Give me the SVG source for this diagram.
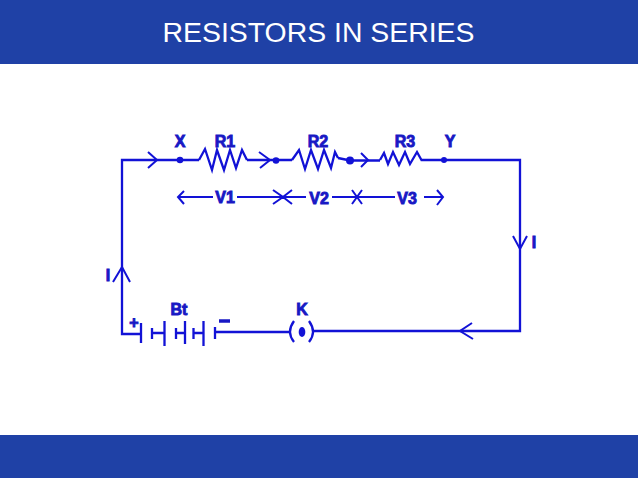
<svg xmlns="http://www.w3.org/2000/svg" width="638" height="478" viewBox="0 0 638 478">
<style>
.bar{fill:#1f41a6}
.title{font:28.4px "Liberation Sans",Arial,sans-serif;fill:#fff;text-anchor:middle}
.w{fill:none;stroke:#1212d6;stroke-width:2.300}
.t{fill:none;stroke:#1212d6;stroke-width:2}
.d{fill:#1212d6}
.lb{font:bold 16px "Liberation Sans",Arial,sans-serif;fill:#1818c4;text-anchor:middle;stroke:#1818c4;stroke-width:.9}
</style>
<rect width="638" height="478" fill="#fff"/>
<rect class="bar" width="638" height="64"/>
<rect class="bar" y="435" width="638" height="43"/>
<text class="title" x="318.500" y="42">RESISTORS IN SERIES</text>
<g id="connectors">
<path class="w" d="M180 160H122V334H141"/>
<path class="w" d="M180 160H199M247 160H276M276 160H292M338 158L350 160.500H380M422 160H520V331H314M215 332H291"/>
<path class="t" d="M148 152L157 160L148 168M259 152L270 160L260 168M361 153L368 160L361 167M513 236L520 249L527 236M472 323L460 331L473 339M113 282L122 267L130 282"/>
<path class="t" d="M213 197H178M184 191L178 197L184 204M237 197H306M273 190L283 197L273 204M292 190L283 197L292 204M332 197H395M352 190L362 204M362 190L352 204M424 197H443M437 190L443 197L437 205"/>
</g>
<g id="X"><circle class="d" cx="180" cy="160" r="3.300"/><text class="lb" x="180" y="147">X</text></g>
<g id="R1"><path class="w" d="M199 160L205 149L212 170L217 150L224 170L230 150L236 168L242 150L247 160"/><text class="lb" x="225" y="147">R1</text></g>
<g id="J1"><circle class="d" cx="276" cy="160.500" r="3.300"/></g>
<g id="R2"><path class="w" d="M292 160L299 150L305 169L311 150L318 169L324 150L331 168L335 152L338 158"/><text class="lb" x="318" y="147">R2</text></g>
<g id="J2"><circle class="d" cx="350" cy="160.500" r="4"/></g>
<g id="R3"><path class="w" d="M380 160L384 153L388 164L393 152L399 165L405 152L410 164L417 152L422 161"/><text class="lb" x="405" y="147">R3</text></g>
<g id="Y"><circle class="d" cx="444" cy="160" r="3"/><text class="lb" x="450" y="147">Y</text></g>
<g id="V1"><text class="lb" x="225" y="203">V1</text></g>
<g id="V2"><text class="lb" x="319" y="203.500">V2</text></g>
<g id="V3"><text class="lb" x="407" y="203.500">V3</text></g>
<g id="I-right"><text class="lb" x="534" y="248">I</text></g>
<g id="I-left"><text class="lb" x="108" y="281">I</text></g>
<g id="Bt"><path class="w" d="M141 323V343M152 328V339M152 333H164M164.500 321V346M176 328V339M176 333H185M185 321V344M193.500 328V339M193.500 333H203M203.500 321V346M215 327V339"/>
<text class="lb" x="179" y="315">Bt</text>
<text class="lb" x="134" y="328">+</text>
<path d="M219 321H230" stroke="#1818c4" stroke-width="3.500"/></g>
<g id="K"><path class="w" d="M294 321Q286 332 294 342M309 321Q317 332 309 342"/><ellipse class="d" cx="302" cy="332" rx="3.300" ry="5"/><text class="lb" x="302" y="315">K</text></g>
</svg>
